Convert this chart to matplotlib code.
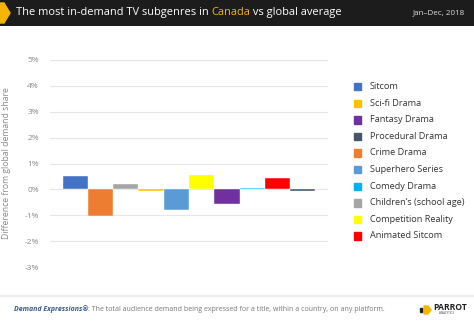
import matplotlib
matplotlib.use("Agg")
import matplotlib.pyplot as plt
from matplotlib.patches import Polygon, Rectangle
from matplotlib.offsetbox import TextArea, HPacker, AnnotationBbox

plt.rcParams['font.family'] = ['Open Sans', 'DejaVu Sans']

# Bars in drawing order (left to right)
bar_genres = ["Sitcom", "Crime Drama", "Children's (school age)", "Sci-fi Drama",
              "Superhero Series", "Competition Reality", "Fantasy Drama",
              "Comedy Drama", "Animated Sitcom", "Procedural Drama"]
bar_values = [0.51, -1.02, 0.22, -0.06, -0.79, 0.57, -0.58, 0.05, 0.44, -0.05]

# Legend order
legend_genres = ["Sitcom", "Sci-fi Drama", "Fantasy Drama", "Procedural Drama",
                 "Crime Drama", "Superhero Series", "Comedy Drama",
                 "Children's (school age)", "Competition Reality", "Animated Sitcom"]

genre_colors = {
    "Sitcom": "#4472c4",
    "Sci-fi Drama": "#ffc000",
    "Fantasy Drama": "#7030a0",
    "Procedural Drama": "#44546a",
    "Crime Drama": "#ed7d31",
    "Superhero Series": "#5b9bd5",
    "Comedy Drama": "#00b0f0",
    "Children's (school age)": "#a5a5a5",
    "Competition Reality": "#ffff00",
    "Animated Sitcom": "#ff0000",
}

y_ticks = [-3, -2, -1, 0, 1, 2, 3, 4, 5]
y_tick_labels = [f"{t}%" for t in y_ticks]

W, H = 474, 326
fig = plt.figure(figsize=(W / 100, H / 100), dpi=100)

# Header band
hdr = fig.add_axes([0, 1 - 26 / H, 1, 26 / H])
hdr.set_xlim(0, W)
hdr.set_ylim(0, 26)
hdr.axis("off")
hdr.add_patch(Rectangle((0, 0), W, 26, color="#1c1c1c"))
hdr.add_patch(Polygon([(0, 3), (4, 3), (10, 13), (4, 23), (0, 23)], color="#f5b400"))
title = HPacker(children=[
    TextArea("The most in-demand TV subgenres in ", textprops=dict(color="white", fontsize=7.9)),
    TextArea("Canada", textprops=dict(color="#f0b323", fontsize=7.9)),
    TextArea(" vs global average", textprops=dict(color="white", fontsize=7.9)),
], pad=0, sep=0)
hdr.add_artist(AnnotationBbox(title, (16, 13.5), xycoords="data", box_alignment=(0, 0.5),
                              frameon=False, pad=0))
hdr.text(W - 9, 13, "Jan\u2013Dec, 2018", color="#dddddd", fontsize=5.8,
         va="center", ha="right")

# Main chart
ax = fig.add_axes([50 / W, 1 - 267 / H, 278 / W, 207 / H])
x = list(range(len(bar_values)))
ax.bar(x, bar_values, width=1.0, color=[genre_colors[g] for g in bar_genres],
       edgecolor="white", linewidth=0.3, zorder=3)
ax.set_xlim(-1, 10)
ax.set_ylim(-3, 5)
ax.set_yticks(y_ticks)
ax.set_yticklabels(y_tick_labels)
ax.set_xticks([])
ax.grid(axis="y", color="#e6e6e6", linewidth=0.8, zorder=0)
for s in ax.spines.values():
    s.set_visible(False)
ax.tick_params(axis="y", length=0, labelsize=6, labelcolor="#8a8a8a", pad=8)
ax.set_ylabel("Difference from global demand share", fontsize=6.2, color="#8a8a8a")
ax.yaxis.set_label_coords((11 - 50) / 278, 0.5)

# Legend
leg = fig.add_axes([0, 0, 1, 1], facecolor="none")
leg.set_xlim(0, W)
leg.set_ylim(H, 0)
leg.axis("off")
for i, g in enumerate(legend_genres):
    yy = 86.5 + i * 16.6
    leg.add_patch(Rectangle((354, yy - 3.6), 7.5, 7.5, color=genre_colors[g]))
    label = g.replace("'", "\u2019")
    leg.text(370, yy, label, fontsize=6.6, color="#333333", va="center", ha="left")

# Footer
leg.plot([0, W], [296, 296], color="#eeeeee", linewidth=1.5)
foot = HPacker(children=[
    TextArea("Demand Expressions\u00ae", textprops=dict(color="#3a5a8a", fontsize=5.0, style="italic", weight="bold")),
    TextArea(": The total audience demand being expressed for a title, within a country, on any platform.",
             textprops=dict(color="#777777", fontsize=5.0)),
], pad=0, sep=0)
leg.add_artist(AnnotationBbox(foot, (14, 309), xycoords="data", box_alignment=(0, 0.5),
                              frameon=False, pad=0))
leg.add_patch(Polygon([(424, 306), (428, 306), (431, 310), (428, 314), (424, 314)], color="#f5b400"))
leg.add_patch(Polygon([(420, 308), (422, 308), (422, 312), (420, 312)], color="#222222"))
leg.text(433, 307.5, "PARROT", fontsize=6.2, weight="bold", color="#222222", va="center", ha="left")
leg.text(447, 313.5, "ANALYTICS", fontsize=2.2, color="#444444", va="center", ha="center")

fig.savefig("out.png", dpi=100)
